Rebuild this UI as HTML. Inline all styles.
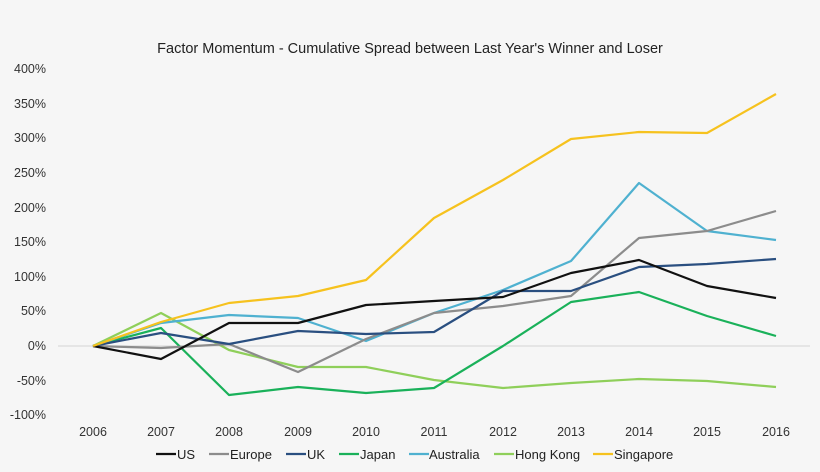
<!DOCTYPE html>
<html><head><style>
body{margin:0;background:#f6f6f6;}
svg{display:block;font-family:"Liberation Sans",Arial,sans-serif;}
</style></head><body>
<svg width="820" height="472" viewBox="0 0 820 472">
<rect width="820" height="472" fill="#f6f6f6"/>
<text x="410" y="53" text-anchor="middle" font-size="14.5" fill="#222">Factor Momentum - Cumulative Spread between Last Year's Winner and Loser</text>
<g font-size="12.5" fill="#333" text-anchor="end">
<text x="46" y="73">400%</text><text x="46" y="108">350%</text><text x="46" y="142">300%</text>
<text x="46" y="177">250%</text><text x="46" y="212">200%</text><text x="46" y="246">150%</text>
<text x="46" y="281">100%</text><text x="46" y="315">50%</text><text x="46" y="350">0%</text>
<text x="46" y="385">-50%</text><text x="46" y="419">-100%</text>
</g>
<line x1="58" y1="346" x2="810" y2="346" stroke="#d4d4d4" stroke-width="1"/>
<g font-size="12.5" fill="#333" text-anchor="middle">
<text x="93" y="436">2006</text><text x="161" y="436">2007</text><text x="229" y="436">2008</text>
<text x="298" y="436">2009</text><text x="366" y="436">2010</text><text x="434" y="436">2011</text>
<text x="503" y="436">2012</text><text x="571" y="436">2013</text><text x="639" y="436">2014</text>
<text x="707" y="436">2015</text><text x="776" y="436">2016</text>
</g>
<g fill="none" stroke-width="2.2" stroke-linejoin="round">
<polyline stroke="#8fcf5a" points="93,346 161,313 229,350 298,367 366,367 434,380 503,388 571,383 639,379 707,381 776,387"/>
<polyline stroke="#1ab15a" points="93,346 161,328 229,395 298,387 366,393 434,388 503,346 571,302 639,292 707,316 776,336"/>
<polyline stroke="#4fb1d0" points="93,346 161,323 229,315 298,318 366,341 434,313 503,290 571,261 639,183 707,231 776,240"/>
<polyline stroke="#8c8c8c" points="93,346 161,348 229,344 298,372 366,339 434,313 503,306 571,296 639,238 707,231 776,211"/>
<polyline stroke="#2a4f80" points="93,346 161,333 229,344 298,331 366,334 434,332 503,291 571,291 639,267 707,264 776,259"/>
<polyline stroke="#111" points="93,346 161,359 229,323 298,323 366,305 434,301 503,297 571,273 639,260 707,286 776,298"/>
<polyline stroke="#f6c21e" points="93,346 161,322 229,303 298,296 366,280 434,218 503,180 571,139 639,132 707,133 776,94"/>
</g>
<g font-size="13" fill="#222">
<line x1="156" y1="454" x2="176" y2="454" stroke="#111" stroke-width="2.2"/><text x="177" y="459">US</text>
<line x1="209" y1="454" x2="229" y2="454" stroke="#8c8c8c" stroke-width="2.2"/><text x="230" y="459">Europe</text>
<line x1="286" y1="454" x2="306" y2="454" stroke="#2a4f80" stroke-width="2.2"/><text x="307" y="459">UK</text>
<line x1="339" y1="454" x2="359" y2="454" stroke="#1ab15a" stroke-width="2.2"/><text x="360" y="459">Japan</text>
<line x1="409" y1="454" x2="429" y2="454" stroke="#4fb1d0" stroke-width="2.2"/><text x="429" y="459">Australia</text>
<line x1="494" y1="454" x2="514" y2="454" stroke="#8fcf5a" stroke-width="2.2"/><text x="515" y="459">Hong Kong</text>
<line x1="593" y1="454" x2="613" y2="454" stroke="#f6c21e" stroke-width="2.2"/><text x="614" y="459">Singapore</text>
</g>
</svg>
</body></html>
